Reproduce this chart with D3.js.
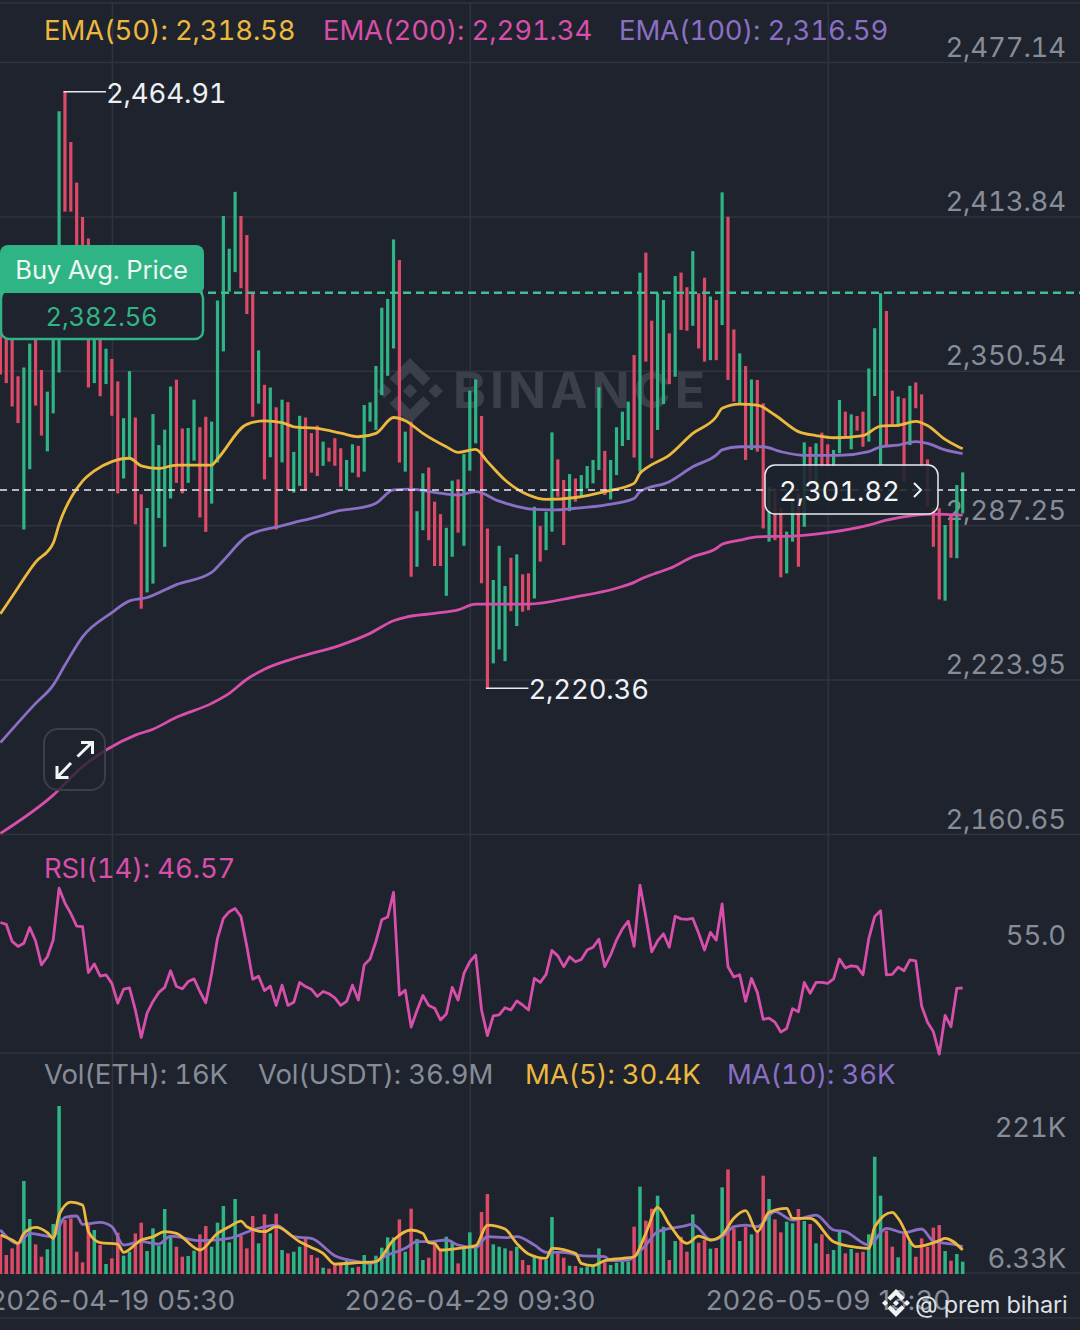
<!DOCTYPE html>
<html>
<head>
<meta charset="utf-8">
<script src="https://cdn.jsdelivr.net/npm/d3@7"></script>
<style>
  html, body { margin: 0; padding: 0; background: #1e232d; }
  svg { display: block; }
  text { font-family: Inter, "Noto Sans", sans-serif; font-size: 27.5px; font-feature-settings: "tnum" 1; font-variant-numeric: tabular-nums; letter-spacing: -0.15px; }
  .axis .domain { display: none; }
  .axis line { stroke: #2f343f; stroke-width: 1.5; }
  .axis text { fill: #878d98; }
  .dates text { font-feature-settings: normal; font-variant-numeric: normal; letter-spacing: 0.33px; }
</style>
</head>
<body>
<div class="d3-container"></div>
<script>
// candle bodies, 4h bars, one line = 10 bars
const candleTop = [
  2382.2,2379.4,2370.9,2348.3,2351.9,2361.7,2370.9,2350.9,2342.0,2370.9,
  2457.0,2464.91,2444.3,2427.7,2413.6,2404.8,2370.9,2370.9,2359.6,2355.4,
  2346.2,2331.1,2350.4,2331.4,2299.9,2294.3,2332.8,2320.1,2326.4,2344.1,
  2346.9,2326.9,2327.1,2338.7,2327.4,2331.7,2329.7,2379.4,2414.0,2400.6,
  2423.9,2414.0,2406.2,2382.2,2358.9,2344.8,2343.7,2335.6,2338.7,2337.7,
  2317.3,2332.1,2331.4,2325.0,2328.1,2321.5,2319.0,2322.9,2318.8,2314.0,
  2320.4,2319.8,2336.5,2337.6,2352.5,2376.4,2380.0,2404.4,2396.0,2325.6,
  2329.7,2293.0,2308.5,2310.9,2296.9,2291.8,2286.2,2305.5,2306.0,2316.4,
  2342.4,2347.0,2332.0,2285.9,2264.8,2278.8,2262.3,2273.9,2275.3,2267.1,
  2267.5,2294.8,2286.9,2292.8,2325.3,2314.2,2305.8,2308.2,2306.4,2307.8,
  2311.5,2314.0,2343.8,2317.7,2314.0,2327.4,2333.8,2337.9,2357.0,2390.8,
  2399.0,2371.1,2382.3,2379.6,2365.9,2389.4,2390.8,2384.8,2399.6,2382.3,
  2388.7,2381.0,2379.6,2423.7,2413.7,2367.5,2357.7,2352.5,2347.0,2346.8,
  2337.2,2303.0,2302.3,2294.2,2284.6,2297.6,2300.3,2321.2,2319.4,2320.8,
  2325.2,2320.4,2318.1,2338.6,2333.8,2332.7,2332.0,2333.8,2351.5,2368.0,
  2382.3,2375.1,2342.4,2340.0,2339.3,2344.4,2345.8,2340.9,2314.2,2294.2,
  2294.2,2287.3,2291.4,2303.7,2308.9
]
const candleBottom = [
  2349.0,2345.5,2335.9,2329.1,2285.5,2310.2,2336.3,2324.0,2317.5,2333.1,
  2349.8,2415.8,2415.8,2390.7,2382.2,2343.7,2345.5,2340.1,2345.1,2332.1,
  2300.3,2306.4,2315.1,2287.6,2253.0,2259.7,2263.3,2290.2,2278.4,2298.2,
  2304.6,2300.3,2304.6,2313.7,2290.4,2284.5,2296.1,2313.0,2358.5,2383.0,
  2391.0,2384.4,2373.8,2331.7,2337.1,2306.0,2315.1,2285.5,2313.0,2301.7,
  2300.6,2303.4,2301.7,2308.8,2307.4,2311.6,2313.3,2311.6,2303.0,2301.7,
  2308.8,2306.9,2309.2,2329.7,2326.3,2340.6,2348.5,2359.7,2312.9,2309.2,
  2266.1,2270.2,2285.2,2281.1,2270.5,2270.5,2258.3,2274.3,2284.2,2278.8,
  2309.6,2320.8,2263.4,2220.36,2230.6,2236.3,2231.5,2252.0,2245.9,2251.8,
  2252.4,2257.2,2272.3,2277.0,2284.6,2298.9,2279.1,2293.0,2296.9,2298.9,
  2302.3,2304.4,2309.9,2299.6,2297.8,2307.8,2319.7,2322.2,2315.0,2309.2,
  2354.3,2314.7,2326.3,2336.9,2345.1,2348.1,2367.3,2367.0,2369.0,2359.7,
  2354.3,2354.9,2354.9,2369.3,2346.8,2337.9,2337.2,2314.0,2318.1,2317.4,
  2285.9,2280.5,2281.1,2265.9,2267.5,2280.5,2270.2,2286.6,2305.1,2304.4,
  2311.2,2311.2,2311.2,2316.7,2323.5,2318.4,2326.0,2319.4,2321.5,2340.2,
  2311.9,2320.1,2327.6,2327.6,2305.1,2320.1,2335.2,2311.2,2294.8,2278.4,
  2256.8,2256.3,2273.9,2273.7,2292.1
]
const candleRising = [
  0,0,0,0,1,1,0,0,1,1,
  1,0,0,0,0,0,1,0,1,0,
  0,1,1,0,0,1,1,1,1,1,
  0,0,1,1,0,0,1,1,1,1,
  1,0,0,0,1,0,1,0,1,0,
  1,1,0,0,0,1,0,0,0,1,
  1,0,1,1,1,1,1,1,0,1,
  0,1,1,0,0,0,1,1,0,1,
  1,1,0,0,1,1,1,0,1,0,
  0,1,0,1,1,0,0,1,0,1,
  1,1,1,0,1,1,1,1,0,1,
  0,0,1,1,0,1,0,0,1,0,
  0,1,0,1,0,0,1,0,1,0,
  0,1,0,0,1,1,0,1,0,1,
  0,0,1,1,0,1,0,0,1,1,
  1,0,0,1,0,1,0,0,0,0,
  0,1,0,1,1
]

// moving averages, read at the bends of each line
const ema50Bars = [0,2,6,9,10,14,16,19,22,24,27,30,36,37,42,45,48,50,54,58,61,64,67,69,72,76,78,81,83,86,90,93,98,103,108,109,110,114,118,122,123,126,129,132,136,139,142,147,150,153,156,158,161,163,164]
const ema50Values = [2250.9,2258.0,2272.1,2279.9,2287.6,2305.3,2309.5,2313.3,2314.7,2311.6,2310.5,2311.9,2311.9,2314.4,2328.6,2330.0,2329.3,2327.6,2326.9,2325.0,2323.5,2324.9,2331.4,2330.1,2324.9,2319.4,2317.1,2318.3,2313.3,2305.8,2299.6,2297.8,2298.6,2301.0,2304.4,2308.5,2310.5,2316.0,2324.9,2331.7,2335.2,2336.9,2336.5,2332.4,2325.6,2324.0,2323.1,2324.0,2327.9,2328.2,2329.8,2328.1,2322.4,2319.7,2318.58]
const ema100Bars = [0,6,9,11,14,19,22,25,30,36,38,42,44,47,50,54,58,61,64,67,70,74,78,81,85,91,94,98,103,108,109,114,118,122,123,126,130,133,137,143,148,150,153,156,158,161,164]
const ema100Values = [2198.1,2214.2,2221.7,2229.9,2241.5,2251.4,2256.2,2257.6,2262.9,2267.9,2272.8,2282.7,2284.8,2286.5,2288.3,2290.7,2293.3,2294.2,2296.2,2301.7,2302.0,2300.7,2299.6,2301.0,2297.1,2293.7,2293.5,2294.2,2295.5,2298.2,2301.0,2305.1,2311.2,2316.0,2318.1,2319.4,2319.4,2317.4,2315.9,2315.9,2317.4,2319.4,2320.1,2321.5,2320.8,2318.1,2316.59]
const ema200Bars = [0,9,14,18,23,26,30,36,39,42,45,51,58,63,67,69,74,78,81,90,98,105,108,109,112,114,118,122,123,126,129,135,141,148,151,156,159,164]
const ema200Values = [2160.9,2176.6,2188.3,2195.1,2201.2,2203.6,2208.5,2214.2,2218.3,2224.1,2228.2,2233.3,2238.1,2242.9,2248.1,2249.5,2251.1,2252.5,2254.9,2254.9,2257.9,2261.4,2263.8,2265.0,2267.8,2269.5,2274.3,2277.7,2279.4,2281.1,2282.5,2282.8,2284.2,2287.3,2289.3,2291.4,2291.8,2291.34]

const rsiValues = [
  61.1,60.7,56.9,55.8,56.5,60.0,57.0,51.7,53.5,57.2,
  68.7,65.4,63.1,60.3,60.2,50.0,51.9,49.2,49.5,47.6,
  43.2,46.3,46.6,41.7,35.6,41.0,43.6,45.6,46.7,50.4,
  46.9,46.4,48.0,48.6,45.8,43.3,49.8,57.6,62.0,63.5,
  64.2,62.4,55.8,48.5,49.2,46.0,47.0,42.7,47.2,42.7,
  43.4,47.8,46.9,46.3,44.7,45.8,45.3,44.4,42.7,43.6,
  47.2,43.9,51.7,53.0,56.9,61.7,62.3,67.8,45.0,46.1,
  37.9,41.6,44.9,42.7,42.1,39.5,40.8,46.7,43.9,49.8,
  52.4,53.9,41.7,36.0,40.4,40.6,42.2,41.7,43.7,42.8,
  41.7,48.7,47.8,49.6,54.9,53.7,51.3,53.5,52.4,52.9,
  55.0,55.6,57.4,51.3,53.9,57.2,59.7,61.4,55.8,69.4,
  62.4,54.6,57.0,58.6,55.6,62.5,61.9,61.8,62.0,58.7,
  55.0,58.9,57.2,65.2,51.3,49.0,49.5,43.6,48.7,45.6,
  39.6,39.9,39.0,36.8,37.6,42.0,41.3,47.8,45.4,47.8,
  47.8,47.6,48.6,53.0,51.0,51.5,51.3,49.5,57.6,62.4,
  63.7,49.5,49.6,51.2,50.4,52.8,52.6,42.6,39.0,36.9,
  31.9,40.5,38.0,46.5,46.57
]

// volume in thousands of ETH
const volumeValues = [
  65.8,35.8,46.7,53.8,157.1,94.8,53.3,33.0,45.1,86.6,
  280.0,93.1,95.9,41.2,23.8,84.9,76.8,52.2,21.0,30.3,
  72.4,34.7,41.2,71.3,88.8,42.3,79.5,51.1,111.2,65.8,
  49.4,33.0,34.1,42.9,69.7,83.3,49.4,88.8,116.1,56.5,
  127.6,67.5,46.7,99.7,54.9,102.4,71.3,103.5,44.0,38.5,
  41.2,49.4,63.1,35.8,31.4,15.0,13.4,19.4,19.4,30.3,
  15.0,16.7,35.8,24.9,34.7,47.8,64.7,64.7,94.2,41.2,
  111.7,62.0,27.6,31.4,52.2,45.1,65.8,57.6,22.1,49.4,
  72.9,49.4,106.3,135.8,53.3,49.4,46.7,42.9,49.4,27.6,
  19.4,34.7,30.3,27.6,98.1,38.5,31.4,18.3,17.8,15.0,
  16.7,18.3,46.7,23.8,19.4,23.2,24.9,24.9,82.2,147.8,
  92.1,111.7,133.0,82.2,27.6,58.7,65.8,41.2,102.4,56.0,
  60.4,46.2,47.3,146.7,176.2,79.5,58.7,82.2,69.7,76.8,
  165.8,127.6,94.2,72.9,90.4,87.7,111.2,91.5,86.6,54.9,
  69.7,37.4,44.0,74.0,38.5,45.6,39.6,41.2,69.7,196.9,
  133.0,75.7,49.4,32.0,71.3,57.6,33.0,63.1,49.4,80.6,
  84.9,42.3,26.5,37.4,24.9
]
const ma5Bars = [0,2,3,4,6,8,9,10,12,14,15,17,20,21,24,26,28,30,34,37,39,41,42,45,47,51,53,55,57,61,64,67,70,72,73,74,75,78,81,83,86,88,90,93,94,98,99,101,103,106,108,110,112,114,117,119,121,123,125,127,129,131,134,135,138,142,146,148,149,152,153,156,160,161,164]
const ma5Values = [68.6,60.4,54.9,71.3,81.2,72.4,63.1,101.3,122.6,117.7,74.0,56.0,53.8,40.2,60.4,65.8,74.0,71.3,44.0,71.3,82.2,91.5,82.2,74.0,82.2,57.6,48.3,38.5,21.0,23.2,24.9,60.4,76.8,71.3,56.0,54.9,44.0,46.7,51.1,84.9,78.4,54.9,37.4,30.3,46.7,38.5,22.1,18.3,26.5,30.3,33.0,71.3,113.9,86.0,54.9,66.9,60.4,68.6,95.9,108.4,74.0,105.7,112.3,95.9,95.9,57.6,48.3,46.7,82.2,105.7,95.9,49.4,59.3,63.1,44.0]
const ma10Bars = [0,3,5,9,11,13,14,17,19,21,24,27,29,34,39,43,47,50,53,57,61,63,66,69,71,73,76,78,81,83,86,88,91,93,96,99,103,104,107,110,112,116,118,119,121,123,125,127,129,132,135,139,142,144,148,151,154,157,159,163,164]
const ma10Values = [76.8,54.9,71.3,65.8,97.5,99.7,86.0,89.3,82.2,52.2,57.6,53.8,66.9,59.3,63.1,76.8,84.9,65.8,63.1,34.7,24.9,22.1,35.8,46.7,57.6,57.6,60.4,52.2,48.3,65.8,64.2,65.8,52.2,40.2,40.2,34.7,33.0,26.5,27.6,52.2,74.0,82.2,86.0,79.5,60.4,65.8,82.2,84.9,82.2,106.8,93.1,101.3,76.8,74.0,52.2,79.5,72.4,78.4,58.7,52.2,49.4]

// axis labels
const priceTicks = [2477.14, 2413.84, 2350.54, 2287.25, 2223.95, 2160.65]
const rsiTicks = [55.0]
const volumeTicks = [221, 6.33]
const dateTickBars = [19, 80, 141]
const dateTickLabels = ['2026-04-19 05:30', '2026-04-29 09:30', '2026-05-09 13:30']
const emaLegend = [
  { label: 'EMA(50): 2,318.58', x: 44, color: '#ecb83f' },
  { label: 'EMA(200): 2,291.34', x: 323, color: '#d84fab' },
  { label: 'EMA(100): 2,316.59', x: 619, color: '#8a6fc4' }
]
const volumeLegend = [
  { label: 'Vol(ETH): 16K', x: 44, color: '#878d98' },
  { label: 'Vol(USDT): 36.9M', x: 258, color: '#878d98' },
  { label: 'MA(5): 30.4K', x: 525, color: '#ecb83f' },
  { label: 'MA(10): 36K', x: 727, color: '#8a6fc4' }
]
const buyAvgPrice = 2382.56
const lastPrice = 2301.82
const highPrice = 2464.91
const highBar = 11
const lowPrice = 2220.36
const lowBar = 83

const w = 1080
const h = 1330
const bg = '#1e232d'
const green = '#2fb585'
const red = '#dc4a68'
const yellow = '#ecb83f'
const pink = '#d84fab'
const purple = '#8a6fc4'

const svg = d3.select('.d3-container')
    .append('svg')
    .attr('width', w)
    .attr('height', h)

const bars = d3.range(candleTop.length)

const x = d3.scaleLinear().domain([0, 164]).range([0.4, 962.7])
const y = d3.scaleLinear().domain([2477.14, 2160.65]).range([62, 834])
const yRsi = d3.scaleLinear().domain([55, 32.16]).range([950, 1053])
const yVol = d3.scaleLinear().domain([221, 6.33]).range([1142, 1273])
const volBase = 1274

// pane borders
svg.selectAll('.border')
    .data([3, 1053, 1273, 1318])
    .enter()
    .append('line')
    .attr('x1', 0)
    .attr('x2', w)
    .attr('y1', (d) => d)
    .attr('y2', (d) => d)
    .attr('stroke', '#2f343f')
    .attr('stroke-width', 1.5)

// axes, drawn from the right edge so that ticks run over the full width
const placeLabels = (g) => {
    g.selectAll('text').attr('x', -14).attr('y', -6).attr('dy', 0)
}

svg.append('g')
    .attr('class', 'axis')
    .attr('transform', `translate(${w}, 0)`)
    .call(d3.axisLeft(y)
        .tickValues(priceTicks)
        .tickSize(w)
        .tickFormat(d3.format(',.2f')))
    .call(placeLabels)

svg.append('g')
    .attr('class', 'axis')
    .attr('transform', `translate(${w}, 0)`)
    .call(d3.axisLeft(yRsi).tickValues(rsiTicks).tickSize(0).tickFormat(d3.format('.1f')))
    .call(placeLabels)

svg.append('g')
    .attr('class', 'axis')
    .attr('transform', `translate(${w}, 0)`)
    .call(d3.axisLeft(yVol).tickValues(volumeTicks).tickSize(0).tickFormat((d) => d + 'K'))
    .call(placeLabels)

// date axis: its ticks are the vertical gridlines
const gDate = svg.append('g')
    .attr('class', 'axis dates')
    .attr('transform', `translate(0, ${volBase})`)
    .call(d3.axisBottom(x)
        .tickValues(dateTickBars)
        .tickSize(-volBase + 3)
        .tickFormat((d, i) => dateTickLabels[i]))
gDate.selectAll('text').attr('y', 36).attr('dy', 0)

// watermark
const logoPath = (cx, cy, s) => {
    // the exchange mark: four small diamonds and one in the middle
    const diamond = (dx, dy, r) => `M${cx + dx},${cy + dy - r}L${cx + dx + r},${cy + dy}L${cx + dx},${cy + dy + r}L${cx + dx - r},${cy + dy}Z`
    const chevron = (sy) => `M${cx - s * 0.62},${cy + sy * s * 0.38}L${cx},${cy + sy * s}L${cx + s * 0.62},${cy + sy * s * 0.38}L${cx + s * 0.4},${cy + sy * s * 0.16}L${cx},${cy + sy * s * 0.56}L${cx - s * 0.4},${cy + sy * s * 0.16}Z`
    return chevron(-1) + chevron(1) + diamond(0, 0, s * 0.22) + diamond(-s * 0.78, 0, s * 0.22) + diamond(s * 0.78, 0, s * 0.22)
}

const mark = svg.append('g')
mark.append('path')
    .attr('d', logoPath(410, 391, 33))
    .attr('fill', '#3a3f49')
mark.append('text')
    .attr('x', 453)
    .attr('y', 408)
    .attr('fill', '#3a3f49')
    .attr('font-weight', 700)
    .style('letter-spacing', '4px')
    .style('font-size', '50px')
    .text('BINANCE')

// candles
svg.append('g')
    .selectAll('line')
    .data(bars)
    .enter()
    .append('line')
    .attr('x1', (i) => x(i))
    .attr('x2', (i) => x(i))
    .attr('y1', (i) => y(candleTop[i]))
    .attr('y2', (i) => y(candleBottom[i]))
    .attr('stroke', (i) => candleRising[i] ? green : red)
    .attr('stroke-width', 3.2)

// volume bars
svg.append('g')
    .selectAll('rect')
    .data(bars)
    .enter()
    .append('rect')
    .attr('x', (i) => x(i) - 1.75)
    .attr('y', (i) => yVol(volumeValues[i]))
    .attr('width', 3.5)
    .attr('height', (i) => volBase - yVol(volumeValues[i]))
    .attr('fill', (i) => candleRising[i] ? green : red)

const drawLine = (xs, ys, scale, color, curve) => {
    const line = d3.line()
        .x((d) => x(d))
        .y((d, i) => scale(ys[i]))
        .curve(curve)
    svg.append('path')
        .attr('d', line(xs))
        .attr('fill', 'none')
        .attr('stroke', color)
        .attr('stroke-width', 2.8)
        .attr('stroke-linejoin', 'round')
}

drawLine(ema200Bars, ema200Values, y, pink, d3.curveMonotoneX)
drawLine(ema100Bars, ema100Values, y, purple, d3.curveMonotoneX)
drawLine(ema50Bars, ema50Values, y, yellow, d3.curveMonotoneX)
drawLine(bars, rsiValues, yRsi, pink, d3.curveLinear)
drawLine(ma10Bars, ma10Values, yVol, purple, d3.curveMonotoneX)
drawLine(ma5Bars, ma5Values, yVol, yellow, d3.curveMonotoneX)

// legends
const legend = (items, baseline) => {
    svg.append('g')
        .selectAll('text')
        .data(items)
        .enter()
        .append('text')
        .attr('x', (d) => d.x)
        .attr('y', baseline)
        .attr('fill', (d) => d.color)
        .text((d) => d.label)
}
legend(emaLegend, 40)
legend([{ label: 'RSI(14): 46.57', x: 44, color: pink }], 878)
legend(volumeLegend, 1084)

// high and low markers
const extreme = (bar, price) => {
    const px = x(bar)
    const py = y(price)
    svg.append('line')
        .attr('x1', px - 1.5).attr('x2', px + 41)
        .attr('y1', py).attr('y2', py)
        .attr('stroke', '#e8eaee').attr('stroke-width', 1.5)
    svg.append('text')
        .attr('x', px + 41)
        .attr('y', py + 11)
        .attr('fill', '#eef0f3')
        .text(d3.format(',.2f')(price))
}
extreme(highBar, highPrice)
extreme(lowBar, lowPrice)

// buy average line and tag
svg.append('line')
    .attr('x1', 0).attr('x2', w)
    .attr('y1', y(buyAvgPrice)).attr('y2', y(buyAvgPrice))
    .attr('stroke', '#43bd92')
    .attr('stroke-width', 2.4)
    .attr('stroke-dasharray', '8 5')

svg.append('rect')
    .attr('x', 1).attr('y', 290).attr('width', 202).attr('height', 49).attr('rx', 8)
    .attr('fill', bg).attr('stroke', green).attr('stroke-width', 2.5)
svg.append('path')
    .attr('d', 'M0,253a8,8 0 0 1 8,-8H196a8,8 0 0 1 8,8V287a6,6 0 0 1 -6,6H0Z')
    .attr('fill', green)
svg.append('text')
    .attr('x', 101.5).attr('y', 279)
    .attr('text-anchor', 'middle')
    .attr('fill', '#eef5f2')
    .style('font-size', '25.6px')
    .text('Buy Avg. Price')
svg.append('text')
    .attr('x', 101.5).attr('y', 326)
    .attr('text-anchor', 'middle')
    .attr('fill', green)
    .style('font-size', '25.6px')
    .text(d3.format(',.2f')(buyAvgPrice))

// last price line and tag
svg.append('line')
    .attr('x1', 0).attr('x2', w)
    .attr('y1', 490).attr('y2', 490)
    .attr('stroke', '#e8eaee')
    .attr('stroke-width', 1.6)
    .attr('stroke-dasharray', '7 5')

svg.append('rect')
    .attr('x', 765).attr('y', 465).attr('width', 173).attr('height', 49).attr('rx', 10)
    .attr('fill', bg).attr('fill-opacity', 0.88)
    .attr('stroke', '#e8eaee').attr('stroke-width', 1.5)
svg.append('text')
    .attr('x', 779).attr('y', 501)
    .attr('fill', '#f2f3f5')
    .text(d3.format(',.2f')(lastPrice))
svg.append('path')
    .attr('d', 'M914,483L921,490L914,497')
    .attr('fill', 'none')
    .attr('stroke', '#f2f3f5')
    .attr('stroke-width', 2)

// expand button
svg.append('rect')
    .attr('x', 44).attr('y', 729).attr('width', 61).attr('height', 61).attr('rx', 14)
    .attr('fill', bg).attr('fill-opacity', 0.8)
    .attr('stroke', '#3a3f49').attr('stroke-width', 2)
svg.append('path')
    .attr('d', 'M77.5,756.5L92,742.5M81,742.5H92.5V754M71,763L57,777.5M57,766V777.5H68.5')
    .attr('fill', 'none')
    .attr('stroke', '#f2f3f5')
    .attr('stroke-width', 3)

// author tag over the date axis
svg.append('path')
    .attr('d', logoPath(896, 1303, 14))
    .attr('fill', '#f2f3f5')
svg.append('text')
    .attr('x', 915).attr('y', 1313)
    .attr('fill', '#dfe1e5')
    .style('font-size', '23.5px')
    .text('@ prem bihari')
</script>
</body>
</html>
